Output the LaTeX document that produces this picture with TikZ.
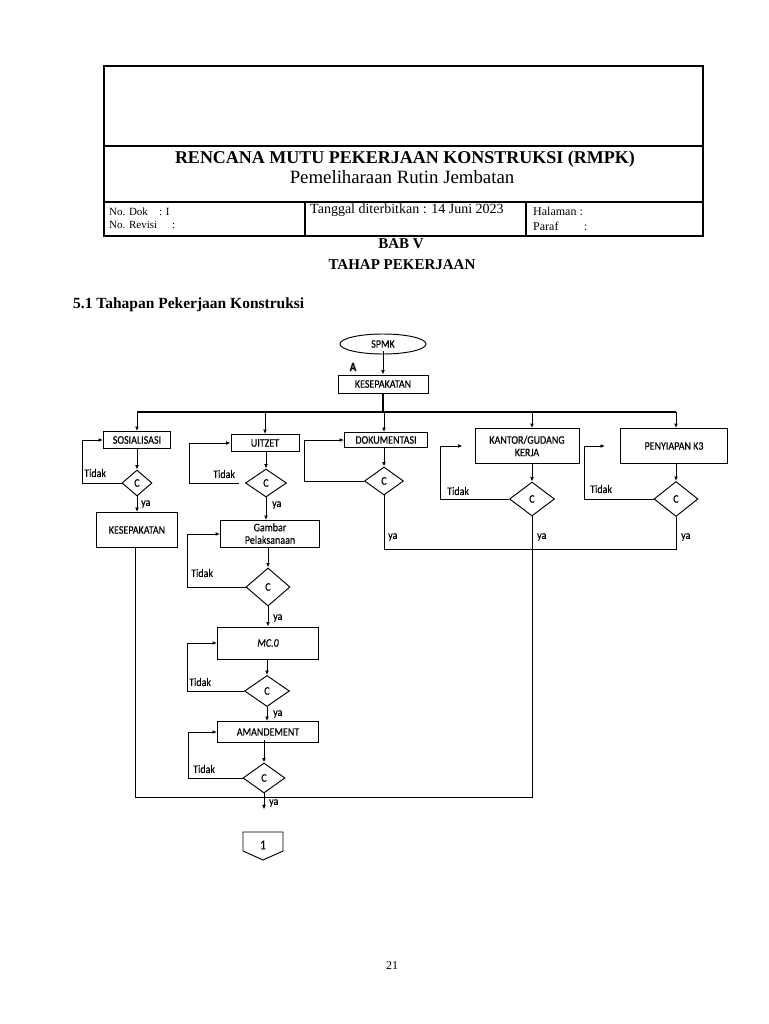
\documentclass[tikz,border=0pt]{standalone}
\usepackage{fontspec}
\setmainfont{Liberation Serif}
\newfontfamily\flowfont{Carlito}[FakeStretch=0.87,FakeBold=0.4]
\usetikzlibrary{shapes.geometric,arrows.meta,calc}
\tikzset{
  ln/.style={line width=0.95pt},
  arr/.style={ln,-{Latex[length=4.5pt,width=3.8pt]}},
  fbox/.style={draw,ln,rectangle,inner sep=0pt,align=center,font=\flowfont\fontsize{11.5}{12.5}\selectfont},
  dec/.style={draw,ln,diamond,inner sep=0pt,font=\flowfont\fontsize{11.5}{12}\selectfont},
  lab/.style={inner sep=0pt,font=\flowfont\fontsize{11.5}{12}\selectfont},
  hdr/.style={inner sep=0pt},
}
\begin{document}
\begin{tikzpicture}[x=1pt,y=-1pt]
\useasboundingbox (0,0) rectangle (768,1024);
% ---------- header table ----------
\draw[line width=1.1pt] (104,66) rectangle (703,236);
\draw[line width=1.1pt] (104,146) -- (703,146);
\draw[line width=1.1pt] (104,202) -- (703,202);
\draw[line width=1.1pt] (305,202) -- (305,236);
\draw[line width=1.1pt] (526,202) -- (526,236);
\node[hdr,anchor=base,font=\bfseries\fontsize{18}{20}\selectfont] (title) at (405,164) {RENCANA MUTU PEKERJAAN KONSTRUKSI (RMPK)};
\node[hdr,anchor=base,font=\fontsize{18.8}{20}\selectfont] (sub) at (402,184) {Pemeliharaan Rutin Jembatan};
\node[hdr,anchor=base west,font=\fontsize{11}{12}\selectfont] (nodok) at (109,215) {\makebox[50pt][l]{No. Dok}: I};
\node[hdr,anchor=base west,font=\fontsize{11}{12}\selectfont] (norev) at (109,229) {\makebox[63pt][l]{No. Revisi}:};
\node[hdr,anchor=base west,font=\fontsize{14}{15}\selectfont] (tgl) at (310,214) {Tanggal diterbitkan : 14 Juni 2023};
\node[hdr,anchor=base west,font=\fontsize{12}{13}\selectfont] (hal) at (533,215) {Halaman :};
\node[hdr,anchor=base west,font=\fontsize{12}{13}\selectfont] (paraf) at (533,231) {\makebox[51pt][l]{Paraf}:};
\node[hdr,anchor=base,font=\bfseries\fontsize{15}{16}\selectfont] (bab) at (401,248) {BAB V};
\node[hdr,anchor=base,font=\bfseries\fontsize{15}{16}\selectfont] (tahap) at (402,269) {TAHAP PEKERJAAN};
\node[hdr,anchor=base west,font=\bfseries\fontsize{15.5}{17}\selectfont] (sec) at (73,308) {5.1 Tahapan Pekerjaan Konstruksi};
\node[hdr,anchor=base,font=\fontsize{12}{13}\selectfont] (pg) at (392,969) {21};
% ---------- flowchart ----------
\node[draw,ln,ellipse,inner sep=0pt,minimum width=86,minimum height=20,font=\flowfont\fontsize{11.5}{12}\selectfont] (spmk) at (383,344) {SPMK};
\node[fbox,minimum width=90,minimum height=18] (kes) at (383,384) {KESEPAKATAN};
\node[inner sep=0pt,font=\flowfont\bfseries\fontsize{12.5}{13}\selectfont] (A) at (353,367) {A};
\draw[arr] ([yshift=3pt]spmk.south) -- (kes.north);
\coordinate (busL) at (137,412);
\coordinate (busR) at (676,412);
\draw[line width=1.3pt] (kes.south) -- (kes.south |- busL);
\draw[line width=1.3pt] (busL) -- (busR);
% column 1
\node[fbox,minimum width=67,minimum height=17] (sos) at (137,440) {SOSIALISASI};
\node[dec,minimum width=30,minimum height=26] (d1) at (137,483) {C};
\node[fbox,minimum width=81,minimum height=35] (kes2) at (137,530) {KESEPAKATAN};
\draw[arr] (busL) -- (sos.north);
\draw[arr] (sos.south) -- (d1.north);
\draw[arr] (d1.west) -- ++(-39,0) |- (sos.west);
\draw[arr] (d1.south) -- (kes2.north);
\node[lab,anchor=west] (t1) at (84,473) {Tidak};
\node[lab,anchor=west] (y1) at (141,504) {ya};
% column 2
\node[fbox,minimum width=68,minimum height=17] (uit) at (265,443) {UITZET};
\node[dec,minimum width=41,minimum height=28] (d2) at (266,483) {C};
\node[fbox,minimum width=99,minimum height=27,text depth=1pt] (gam) at (270,534) {Gambar\\Pelaksanaan};
\node[dec,minimum width=44,minimum height=38] (d3) at (268,587) {C};
\node[fbox,minimum width=101,minimum height=32] (mc) at (268,643) {\itshape MC.0};
\node[dec,minimum width=45,minimum height=31] (d4) at (267,691) {C};
\node[fbox,minimum width=101,minimum height=21] (ama) at (268,732) {AMANDEMENT};
\node[dec,minimum width=42,minimum height=30] (d5) at (264,778) {C};
\draw[arr] (uit.north |- busL) -- (uit.north);
\draw[arr] (uit.south -| d2) -- (d2.north);
\draw[arr] ([xshift=-6pt]d2.west) -- ++(-50,0) |- (uit.west);
\draw[arr] (d2.south) -- (gam.north -| d2);
\draw[arr] (gam.south -| d3) -- (d3.north);
\draw[arr] (d3.west) -- ++(-58,0) |- (gam.west);
\draw[arr] (d3.south) -- (mc.north -| d3);
\draw[arr] (mc.south -| d4) -- (d4.north);
\draw[arr] (d4.west) -- ++(-57,0) |- (mc.west);
\draw[arr] (d4.south) -- (ama.north -| d4);
\draw[arr] ([yshift=3pt]ama.south -| d5) -- (d5.north);
\draw[arr] (d5.west) -- ++(-54,0) |- (ama.west);
\draw[arr] (d5.south) -- ++(0,16);
\node[lab,anchor=west] (t2) at (213,474) {Tidak};
\node[lab,anchor=west] (y2) at (272,505) {ya};
\node[lab,anchor=west] (t3) at (191,573) {Tidak};
\node[lab,anchor=west] (y3) at (273,618) {ya};
\node[lab,anchor=west] (t4) at (189,682) {Tidak};
\node[lab,anchor=west] (y4) at (273,714) {ya};
\node[lab,anchor=west] (t5) at (193,769) {Tidak};
\node[lab,anchor=west] (y5) at (269,803) {ya};
% off-page connector
\draw[ln] (243,832) -- (283,832) -- (283,851) -- (263,860) -- (243,851) -- cycle;
\node[inner sep=0pt,font=\flowfont\fontsize{13.5}{14}\selectfont] (c1) at (263,845) {1};
% column 3
\node[fbox,minimum width=83,minimum height=15] (dok) at (386,440) {DOKUMENTASI};
\node[dec,minimum width=39,minimum height=28] (d6) at (384,481) {C};
\draw[arr] (d6 |- busL) -- (dok.north -| d6);
\draw[arr] (dok.south -| d6) -- (d6.north);
\draw[arr] (d6.west) -- ++(-60,0) |- (dok.west);
\node[lab,anchor=west] (y6) at (388,537) {ya};
% column 4
\node[fbox,minimum width=104,minimum height=35] (kan) at (527,446) {KANTOR/GUDANG\\KERJA};
\node[dec,minimum width=45,minimum height=34] (d7) at (532,499) {C};
\draw[arr] (d7 |- busL) -- (kan.north -| d7);
\draw[arr] (kan.south -| d7) -- (d7.north);
\draw[arr] (d7.west) -- ++(-69,0) |- ([xshift=-12pt]kan.west);
\node[lab,anchor=west] (t7) at (447,491) {Tidak};
\node[lab,anchor=west] (y7) at (537,537) {ya};
% column 5
\node[fbox,minimum width=107,minimum height=35] (pen) at (674,446) {PENYIAPAN K3};
\node[dec,minimum width=44,minimum height=35] (d8) at (676,499) {C};
\draw[arr] (busR) -- (pen.north -| d8);
\draw[arr] (pen.south -| d8) -- (d8.north);
\draw[arr] (d8.west) -- ++(-69,0) |- ([xshift=-15pt]pen.west);
\node[lab,anchor=west] (t8) at (590,489) {Tidak};
\node[lab,anchor=west] (y8) at (681,537) {ya};
% merge lines
\coordinate (yaR) at (676,549);
\draw[ln] (d6.south) |- (yaR) -- (d8.south);
\coordinate (botR) at (532,797);
\coordinate (botL) at (135,797);
\draw[ln] (d7.south) -- (botR) -- (botL) -- (kes2.south -| botL);
\end{tikzpicture}
\end{document}
